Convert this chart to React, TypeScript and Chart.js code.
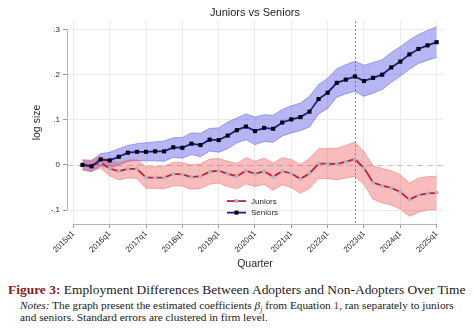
import React, { useEffect, useRef } from "react";
import { Chart, registerables } from "chart.js";

Chart.register(...registerables);

// ---------- data ----------
const quarters = [
  "2015q2", "2015q3", "2015q4", "2016q1", "2016q2", "2016q3", "2016q4", "2017q1",
  "2017q2", "2017q3", "2017q4", "2018q1", "2018q2", "2018q3", "2018q4", "2019q1",
  "2019q2", "2019q3", "2019q4", "2020q1", "2020q2", "2020q3", "2020q4", "2021q1",
  "2021q2", "2021q3", "2021q4", "2022q1", "2022q2", "2022q3", "2022q4", "2023q1",
  "2023q2", "2023q3", "2023q4", "2024q1", "2024q2", "2024q3", "2024q4", "2025q1",
];

const xTickLabels = [
  "2015q1", "2016q1", "2017q1", "2018q1", "2019q1", "2020q1",
  "2021q1", "2022q1", "2023q1", "2024q1", "2025q1",
];

const yTickValues = [-0.1, 0, 0.1, 0.2, 0.3];
const yTickLabels = ["-.1", "0", ".1", ".2", ".3"];

const eventQuarter = "2022q4";

const seniors = [
  0.000, -0.003, 0.012, 0.010, 0.018, 0.027, 0.029, 0.029, 0.030, 0.030,
  0.039, 0.038, 0.047, 0.044, 0.056, 0.055, 0.065, 0.077, 0.085, 0.075,
  0.082, 0.080, 0.094, 0.101, 0.106, 0.118, 0.146, 0.160, 0.182, 0.189,
  0.196, 0.186, 0.193, 0.200, 0.216, 0.229, 0.245, 0.257, 0.265, 0.272,
];
const seniorsUpper = [
  0.011, 0.010, 0.025, 0.028, 0.036, 0.043, 0.047, 0.049, 0.051, 0.053,
  0.060, 0.061, 0.071, 0.070, 0.081, 0.082, 0.095, 0.104, 0.113, 0.106,
  0.111, 0.110, 0.123, 0.131, 0.137, 0.152, 0.178, 0.192, 0.213, 0.222,
  0.230, 0.221, 0.227, 0.233, 0.249, 0.262, 0.277, 0.289, 0.298, 0.306,
];
const seniorsLower = [
  -0.011, -0.015, -0.002, -0.007, 0.000, 0.008, 0.010, 0.009, 0.009, 0.008,
  0.017, 0.015, 0.023, 0.018, 0.031, 0.028, 0.036, 0.049, 0.056, 0.045,
  0.052, 0.050, 0.064, 0.071, 0.076, 0.084, 0.113, 0.125, 0.150, 0.158,
  0.163, 0.152, 0.159, 0.167, 0.183, 0.197, 0.212, 0.225, 0.232, 0.238,
];

const juniors = [
  0.000, -0.002, 0.006, -0.008, -0.014, -0.009, -0.009, -0.028, -0.028, -0.028,
  -0.020, -0.021, -0.027, -0.025, -0.015, -0.013, -0.020, -0.025, -0.013, -0.020,
  -0.014, -0.026, -0.014, -0.019, -0.031, -0.019, 0.003, 0.003, 0.002, 0.007,
  0.013, -0.007, -0.039, -0.046, -0.051, -0.060, -0.077, -0.067, -0.063, -0.062,
];
const juniorsUpper = [
  0.011, 0.010, 0.019, 0.010, 0.005, 0.011, 0.012, -0.004, -0.004, -0.003,
  0.006, 0.005, 0.000, 0.002, 0.013, 0.014, 0.008, 0.003, 0.016, 0.008,
  0.015, 0.004, 0.016, 0.012, 0.001, 0.014, 0.036, 0.036, 0.037, 0.043,
  0.051, 0.029, -0.002, -0.008, -0.013, -0.022, -0.040, -0.029, -0.026, -0.025,
];
const juniorsLower = [
  -0.011, -0.014, -0.007, -0.024, -0.033, -0.029, -0.030, -0.052, -0.052, -0.053,
  -0.046, -0.047, -0.054, -0.052, -0.043, -0.040, -0.048, -0.053, -0.042, -0.048,
  -0.043, -0.056, -0.044, -0.050, -0.063, -0.052, -0.030, -0.030, -0.033, -0.029,
  -0.025, -0.043, -0.076, -0.084, -0.089, -0.098, -0.114, -0.105, -0.100, -0.099,
];

// ---------- helpers ----------
const qIndex = (q: string) => {
  const y = parseInt(q.slice(0, 4), 10);
  const n = parseInt(q.slice(5), 10);
  return (y - 2015) * 4 + (n - 1);
};
const toPts = (vals: number[]) => vals.map((v, i) => ({ x: qIndex(quarters[i]), y: v }));

const FONT = "'Liberation Sans', Arial, Helvetica, sans-serif";
const TEXT = "#2a2a2a";

const JUN_LINE = "#c8202a";
const JUN_MARK = "#a9b8c8";
const SEN_LINE = "#1c1c8c";
const SEN_MARK = "#000000";

const decor = {
  id: "stataDecor",
  beforeDatasetsDraw(chart: any) {
    const { ctx, chartArea, scales } = chart;
    const x = scales.x, y = scales.y;
    ctx.save();
    // zero reference line (dashed)
    const y0 = Math.round(y.getPixelForValue(0)) + 0.5;
    ctx.strokeStyle = "#c4c4c4";
    ctx.lineWidth = 1;
    ctx.setLineDash([6, 4]);
    ctx.beginPath();
    ctx.moveTo(chartArea.left, y0);
    ctx.lineTo(chartArea.right, y0);
    ctx.stroke();
    // event vertical line (dotted)
    const xe = Math.round(x.getPixelForValue(qIndex(eventQuarter))) + 0.5;
    ctx.strokeStyle = "#8a8a8a";
    ctx.setLineDash([2, 2]);
    ctx.beginPath();
    ctx.moveTo(xe, chartArea.top);
    ctx.lineTo(xe, chartArea.bottom);
    ctx.stroke();
    ctx.setLineDash([]);
    // axis lines
    ctx.strokeStyle = "#b4b4b4";
    ctx.beginPath();
    const xl = chartArea.left + 0.5;
    ctx.moveTo(xl, y.getPixelForValue(yTickValues[yTickValues.length - 1]));
    ctx.lineTo(xl, y.getPixelForValue(yTickValues[0]));
    const yb = chartArea.bottom + 0.5;
    ctx.moveTo(x.getPixelForValue(qIndex(xTickLabels[0])), yb);
    ctx.lineTo(x.getPixelForValue(qIndex(xTickLabels[xTickLabels.length - 1])), yb);
    ctx.stroke();
    ctx.restore();
  },
  afterDatasetsDraw(chart: any) {
    const { ctx, chartArea } = chart;
    ctx.save();
    // title
    ctx.fillStyle = "#222";
    ctx.font = `11px ${FONT}`;
    ctx.textAlign = "center";
    ctx.textBaseline = "middle";
    ctx.fillText("Juniors vs Seniors", (chartArea.left + chartArea.right) / 2, 13);
    // legend
    const w = chartArea.right - chartArea.left;
    const h = chartArea.bottom - chartArea.top;
    const lx = chartArea.left + w * 0.4255;
    const entries = [
      { label: "Juniors", line: JUN_LINE, mark: JUN_MARK, shape: "circle", fy: 0.887 },
      { label: "Seniors", line: SEN_LINE, mark: SEN_MARK, shape: "rect", fy: 0.944 },
    ];
    for (const e of entries) {
      const ly = chartArea.top + h * e.fy;
      ctx.strokeStyle = e.line;
      ctx.lineWidth = 1.8;
      ctx.beginPath();
      ctx.moveTo(lx, ly);
      ctx.lineTo(lx + 19, ly);
      ctx.stroke();
      ctx.fillStyle = e.mark;
      if (e.shape === "circle") {
        ctx.beginPath();
        ctx.arc(lx + 9.5, ly, 2, 0, Math.PI * 2);
        ctx.fill();
      } else {
        ctx.fillRect(lx + 7.5, ly - 2, 4, 4);
      }
      ctx.fillStyle = TEXT;
      ctx.font = `8px ${FONT}`;
      ctx.textAlign = "left";
      ctx.textBaseline = "middle";
      ctx.fillText(e.label, lx + 24, ly + 0.5);
    }
    ctx.restore();
  },
};

export default function App() {
  const ref = useRef<HTMLCanvasElement>(null);

  useEffect(() => {
    const chart = new Chart(ref.current as HTMLCanvasElement, {
      type: "line",
      data: {
        datasets: [
          {
            label: "Seniors upper",
            data: toPts(seniorsUpper),
            borderColor: "rgba(110,110,230,0.75)",
            borderWidth: 0.8,
            backgroundColor: "rgba(80,80,232,0.42)",
            pointRadius: 0,
            fill: "+1",
            order: 4,
          },
          {
            label: "Seniors lower",
            data: toPts(seniorsLower),
            borderColor: "rgba(110,110,230,0.75)",
            borderWidth: 0.8,
            pointRadius: 0,
            fill: false,
            order: 4,
          },
          {
            label: "Juniors upper",
            data: toPts(juniorsUpper),
            borderColor: "rgba(235,120,120,0.7)",
            borderWidth: 0.8,
            backgroundColor: "rgba(238,80,80,0.38)",
            pointRadius: 0,
            fill: "+1",
            order: 3,
          },
          {
            label: "Juniors lower",
            data: toPts(juniorsLower),
            borderColor: "rgba(235,120,120,0.7)",
            borderWidth: 0.8,
            pointRadius: 0,
            fill: false,
            order: 3,
          },
          {
            label: "Juniors",
            data: toPts(juniors),
            borderColor: JUN_LINE,
            borderWidth: 1.8,
            pointStyle: "circle",
            pointRadius: 2,
            pointBackgroundColor: JUN_MARK,
            pointBorderWidth: 0,
            fill: false,
            order: 1,
          },
          {
            label: "Seniors",
            data: toPts(seniors),
            borderColor: SEN_LINE,
            borderWidth: 1.8,
            pointStyle: "rect",
            pointRadius: 2.9,
            pointBackgroundColor: SEN_MARK,
            pointBorderWidth: 0,
            fill: false,
            order: 0,
          },
        ],
      },
      options: {
        responsive: false,
        animation: false,
        layout: { padding: { top: 21, right: 31, left: 0, bottom: 0 } },
        elements: { line: { tension: 0 } },
        plugins: {
          legend: { display: false },
          title: { display: false },
          tooltip: { enabled: false },
        },
        scales: {
          x: {
            type: "linear",
            min: -0.7,
            max: 40.7,
            afterBuildTicks: (s: any) => {
              s.ticks = xTickLabels.map((l) => ({ value: qIndex(l) }));
            },
            afterFit: (s: any) => {
              s.height = 48;
            },
            ticks: {
              autoSkip: false,
              minRotation: 45,
              maxRotation: 45,
              padding: 1,
              color: TEXT,
              font: { size: 8, family: FONT },
              callback: (_v: any, i: number) => xTickLabels[i],
            },
            grid: { color: "#ebebeb", tickColor: "#9a9a9a", tickLength: 4, lineWidth: 1 },
            border: { display: false },
            title: {
              display: true,
              text: "Quarter",
              color: TEXT,
              font: { size: 10.5, family: FONT },
              padding: { top: 0, bottom: 2 },
            },
          },
          y: {
            type: "linear",
            min: -0.131,
            max: 0.319,
            afterBuildTicks: (s: any) => {
              s.ticks = yTickValues.map((v) => ({ value: v }));
            },
            afterFit: (s: any) => {
              s.width = 67;
            },
            ticks: {
              padding: 3,
              color: TEXT,
              font: { size: 8, family: FONT },
              callback: (_v: any, i: number) => yTickLabels[i],
            },
            grid: {
              color: (c: any) => (c.tick && Math.abs(c.tick.value) < 1e-9 ? "rgba(0,0,0,0)" : "#ebebeb"),
              tickColor: "#9a9a9a",
              tickLength: 4,
              lineWidth: 1,
            },
            border: { display: false },
            title: {
              display: true,
              text: "log size",
              color: TEXT,
              font: { size: 10.5, family: FONT },
              padding: { top: 31, bottom: 0 },
            },
          },
        },
      },
      plugins: [decor],
    } as any);
    return () => chart.destroy();
  }, []);

  const serif = "'Liberation Serif', 'Times New Roman', serif";

  return (
    <div
      style={{
        position: "fixed",
        left: 0,
        top: 0,
        width: 474,
        height: 330,
        background: "#ffffff",
        overflow: "hidden",
      }}
    >
      <canvas ref={ref} width={474} height={272} style={{ display: "block", width: 474, height: 272 }} />
      <div
        style={{
          position: "absolute",
          left: 8,
          top: 281,
          fontFamily: serif,
          fontSize: 13.45,
          lineHeight: "18px",
          whiteSpace: "nowrap",
          color: "#1a1a1a",
        }}
      >
        <span style={{ color: "#8e1b1b", fontWeight: "bold" }}>Figure 3:</span> Employment Differences
        Between Adopters and Non-Adopters Over Time
      </div>
      <div
        style={{
          position: "absolute",
          left: 20,
          top: 300,
          fontFamily: serif,
          fontSize: 11.3,
          lineHeight: "11.5px",
          whiteSpace: "nowrap",
          color: "#1a1a1a",
        }}
      >
        <i>Notes:</i> The graph present the estimated coefficients{" "}
        <i>
          β<sub style={{ fontSize: 7.5, lineHeight: 0 }}>j</sub>
        </i>{" "}
        from Equation <span style={{ color: "#b22222" }}>1</span>, ran separately to juniors
        <br />
        and seniors. Standard errors are clustered in firm level.
      </div>
    </div>
  );
}
